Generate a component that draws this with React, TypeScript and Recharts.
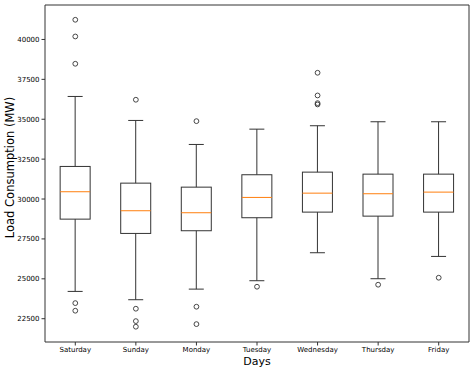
import React from "react";
import { ComposedChart, Bar, Scatter, XAxis, YAxis } from "recharts";

const days = ["Saturday", "Sunday", "Monday", "Tuesday", "Wednesday", "Thursday", "Friday"];
const whiskerLow = [24210, 23689, 24354, 24880, 26634, 25005, 26403];
const q1 = [28740, 27844, 28013, 28828, 29180, 28928, 29180];
const median = [30457, 29266, 29141, 30100, 30369, 30331, 30433];
const q3 = [32042, 30996, 30745, 31522, 31686, 31560, 31560];
const whiskerHigh = [36428, 34925, 33420, 34380, 34593, 34843, 34843];
const outliers: number[][] = [
  [41234, 40188, 38477, 23477, 23000],
  [36222, 23126, 22349, 21998],
  [34881, 23251, 22161],
  [24504],
  [37913, 36491, 36009, 35927],
  [24630],
  [25068],
];
const yTicks = [22500, 25000, 27500, 30000, 32500, 35000, 37500, 40000];

const boxData = days.map((d, i) => ({
  day: d,
  range: [whiskerLow[i], whiskerHigh[i]],
  q1: q1[i],
  median: median[i],
  q3: q3[i],
}));

const outlierData = days.flatMap((d, i) => outliers[i].map((v) => ({ day: d, value: v })));

const LINE = "#333";

// box + whiskers drawn from the range bar (lower whisker .. upper whisker)
const BoxShape = (props: any) => {
  const { x, y, width, height, payload } = props;
  const [lo, hi] = payload.range;
  const top = Math.min(y, y + height);
  const bottom = Math.max(y, y + height);
  const toY = (v: number) => top + ((hi - v) / (hi - lo)) * (bottom - top);
  const cx = x + width / 2;
  const capHalf = width / 4;
  const yq1 = toY(payload.q1);
  const yq3 = toY(payload.q3);
  const ym = toY(payload.median);
  return (
    <g>
      <line x1={cx} x2={cx} y1={top} y2={yq3} stroke={LINE} />
      <line x1={cx} x2={cx} y1={yq1} y2={bottom} stroke={LINE} />
      <line x1={cx - capHalf} x2={cx + capHalf} y1={top} y2={top} stroke={LINE} />
      <line x1={cx - capHalf} x2={cx + capHalf} y1={bottom} y2={bottom} stroke={LINE} />
      <rect x={x} y={yq3} width={width} height={yq1 - yq3} fill="none" stroke={LINE} />
      <line x1={x} x2={x + width} y1={ym} y2={ym} stroke="#ff7f0e" />
    </g>
  );
};

const Flier = (props: any) => (
  <circle cx={props.cx} cy={props.cy} r={2.4} fill="none" stroke={LINE} strokeWidth={0.9} />
);

export default function App() {
  return (
    <div style={{ position: "absolute", left: 0, top: 0, background: "#fff" }}>
      <ComposedChart
        width={474}
        height={372}
        data={boxData}
        margin={{ top: 4, right: 4, left: 0, bottom: 0 }}
        barCategoryGap="25%"
        style={{ fontFamily: "DejaVu Sans" }}
      >
        <XAxis
          dataKey="day"
          type="category"
          allowDuplicatedCategory={false}
          height={30}
          tickSize={3.5}
          tickMargin={2}
          tick={{ fontSize: 7, fill: "#000" }}
          tickLine={{ stroke: LINE }}
          axisLine={{ stroke: LINE }}
          label={{ value: "Days", position: "insideBottom", offset: 7, fontSize: 11, fill: "#000" }}
        />
        <XAxis
          xAxisId="top"
          orientation="top"
          dataKey="day"
          allowDuplicatedCategory={false}
          height={1}
          tick={false}
          tickLine={false}
          axisLine={{ stroke: LINE }}
        />
        <YAxis
          type="number"
          domain={[21040, 42160]}
          ticks={yTicks}
          width={45}
          tickSize={3.5}
          tickMargin={2}
          tick={{ fontSize: 7, fill: "#000" }}
          tickLine={{ stroke: LINE }}
          axisLine={{ stroke: LINE }}
          label={{
            value: "Load Consumption (MW)",
            angle: -90,
            position: "insideLeft",
            offset: 10,
            dy: -6,
            fontSize: 11.5,
            fill: "#000",
            style: { textAnchor: "middle" },
          }}
        />
        <YAxis
          yAxisId="right"
          orientation="right"
          type="number"
          domain={[21040, 42160]}
          width={1}
          tick={false}
          tickLine={false}
          axisLine={{ stroke: LINE }}
        />
        <Bar dataKey="range" shape={<BoxShape />} isAnimationActive={false} />
        <Scatter data={outlierData} dataKey="value" shape={<Flier />} isAnimationActive={false} />
      </ComposedChart>
    </div>
  );
}
